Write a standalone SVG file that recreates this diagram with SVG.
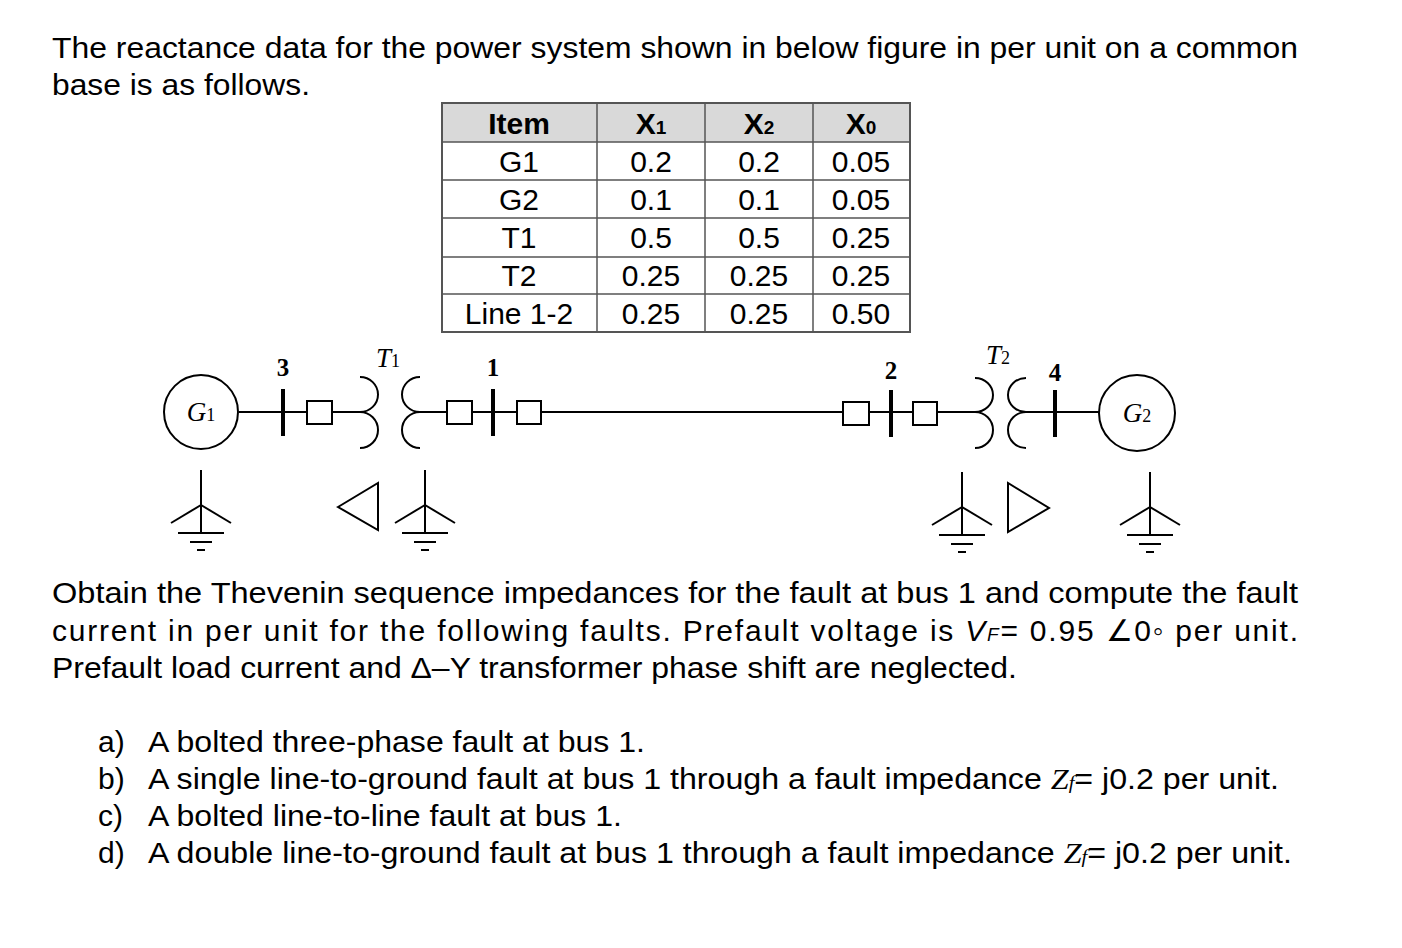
<svg xmlns="http://www.w3.org/2000/svg" width="1402" height="948" viewBox="0 0 1402 948">
<style>
.t{font-family:"Liberation Sans",Arial,sans-serif;font-size:30px;fill:#000}
.tb{font-family:"Liberation Sans",Arial,sans-serif;font-size:30px;fill:#000;text-anchor:middle}
.b{font-weight:bold}
.s{fill:none;stroke:#000;stroke-width:2}
.bar{stroke:#000;stroke-width:4}
.g{fill:none;stroke:#000;stroke-width:2}
.lab{font-family:"Liberation Serif","Times New Roman",serif;font-size:27px;fill:#000;text-anchor:middle}
.bl{font-family:"Liberation Serif",serif;font-size:25px;font-weight:bold;fill:#000;text-anchor:middle}
.it{font-family:"Liberation Serif",serif;font-style:italic}
</style>
<defs>
<g id="gnd" class="g">
<line x1="0" y1="0" x2="0" y2="63"/>
<line x1="0" y1="35" x2="-30" y2="53"/>
<line x1="0" y1="35" x2="30" y2="53"/>
<line x1="-23" y1="63" x2="23" y2="63"/>
<line x1="-11" y1="72" x2="11" y2="72"/>
<line x1="-4" y1="80" x2="4" y2="80"/>
</g>
</defs>
<rect width="1402" height="948" fill="#fff"/>
<text class="t" x="52" y="58" textLength="1246" lengthAdjust="spacingAndGlyphs">The reactance data for the power system shown in below figure in per unit on a common</text>
<text class="t" x="52" y="95" textLength="258" lengthAdjust="spacingAndGlyphs">base is as follows.</text>
<g id="table">
<rect x="442" y="103" width="468" height="39" fill="#d9d9d9"/>
<rect x="442" y="103" width="468" height="229" fill="none" stroke="#555" stroke-width="2"/>
<g stroke="#555" stroke-width="1.5">
<line x1="597" y1="103" x2="597" y2="332"/><line x1="705" y1="103" x2="705" y2="332"/><line x1="813" y1="103" x2="813" y2="332"/>
<line x1="442" y1="142" x2="910" y2="142"/><line x1="442" y1="180" x2="910" y2="180"/><line x1="442" y1="218" x2="910" y2="218"/><line x1="442" y1="257" x2="910" y2="257"/><line x1="442" y1="294" x2="910" y2="294"/>
</g>
<text class="tb b" x="519" y="134">Item</text>
<text class="tb b" x="651" y="134">X<tspan font-size="19">1</tspan></text>
<text class="tb b" x="759" y="134">X<tspan font-size="19">2</tspan></text>
<text class="tb b" x="861" y="134">X<tspan font-size="19">0</tspan></text>
<text class="tb" x="519" y="172">G1</text><text class="tb" x="651" y="172">0.2</text><text class="tb" x="759" y="172">0.2</text><text class="tb" x="861" y="172">0.05</text>
<text class="tb" x="519" y="210">G2</text><text class="tb" x="651" y="210">0.1</text><text class="tb" x="759" y="210">0.1</text><text class="tb" x="861" y="210">0.05</text>
<text class="tb" x="519" y="248">T1</text><text class="tb" x="651" y="248">0.5</text><text class="tb" x="759" y="248">0.5</text><text class="tb" x="861" y="248">0.25</text>
<text class="tb" x="519" y="286">T2</text><text class="tb" x="651" y="286">0.25</text><text class="tb" x="759" y="286">0.25</text><text class="tb" x="861" y="286">0.25</text>
<text class="tb" x="519" y="324">Line 1-2</text><text class="tb" x="651" y="324">0.25</text><text class="tb" x="759" y="324">0.25</text><text class="tb" x="861" y="324">0.50</text>
</g>
<g id="connectors" class="s">
<line x1="239" y1="412" x2="360" y2="412"/>
<line x1="420" y1="412" x2="975" y2="412"/>
<line x1="1026" y1="412" x2="1099" y2="412"/>
</g>
<g id="G1"><circle cx="201" cy="412" r="37" fill="#fff" stroke="#000" stroke-width="2"/><text class="lab" x="201" y="421"><tspan class="it">G</tspan><tspan font-size="18">1</tspan></text></g>
<g id="G2"><circle cx="1137" cy="413" r="38" fill="#fff" stroke="#000" stroke-width="2"/><text class="lab" x="1137" y="422"><tspan class="it">G</tspan><tspan font-size="18">2</tspan></text></g>
<g id="bus3"><line class="bar" x1="283" y1="389" x2="283" y2="436"/><text class="bl" x="283" y="376">3</text></g>
<g id="bus1"><line class="bar" x1="493" y1="389" x2="493" y2="436"/><text class="bl" x="493" y="376">1</text></g>
<g id="bus2"><line class="bar" x1="891" y1="390" x2="891" y2="437"/><text class="bl" x="891" y="379">2</text></g>
<g id="bus4"><line class="bar" x1="1055" y1="390" x2="1055" y2="437"/><text class="bl" x="1055" y="381">4</text></g>
<g id="breakers" fill="#fff" stroke="#000" stroke-width="2">
<rect x="307" y="401" width="25" height="23"/>
<rect x="447" y="401" width="25" height="23"/>
<rect x="517" y="401" width="24" height="23"/>
<rect x="843" y="402" width="26" height="23"/>
<rect x="913" y="402" width="24" height="23"/>
</g>
<g id="T1">
<path class="s" d="M360 377 A18 17.5 0 0 1 360 412 A18 18 0 0 1 360 448 M420 377 A18 17.5 0 0 0 420 412 A18 18 0 0 0 420 448"/>
<text class="lab" x="388" y="367"><tspan class="it">T</tspan><tspan font-size="18">1</tspan></text>
<polygon points="338,507 378,483 378,530" class="g"/>
<use href="#gnd" x="425" y="470"/>
</g>
<g id="T2">
<path class="s" d="M975 378 A18 17 0 0 1 975 412 A18 18 0 0 1 975 448 M1026 378 A18 17 0 0 0 1026 412 A18 18 0 0 0 1026 448"/>
<text class="lab" x="998" y="364"><tspan class="it">T</tspan><tspan font-size="18">2</tspan></text>
<polygon points="1008,483 1008,532 1049,508" class="g"/>
<use href="#gnd" x="962" y="472"/>
</g>
<use href="#gnd" x="201" y="470"/>
<use href="#gnd" x="1150" y="472"/>
<text class="t" x="52" y="603" textLength="1246" lengthAdjust="spacingAndGlyphs">Obtain the Thevenin sequence impedances for the fault at bus 1 and compute the fault</text>
<text class="t" x="52" y="641" textLength="1246" lengthAdjust="spacing">current in per unit for the following faults. Prefault voltage is <tspan font-style="italic">V</tspan><tspan font-style="italic" font-size="19">F</tspan>= 0.95 ∠0◦ per unit.</text>
<text class="t" x="52" y="678" textLength="965" lengthAdjust="spacingAndGlyphs">Prefault load current and Δ–Y transformer phase shift are neglected.</text>
<text class="t" x="98" y="752">a)</text><text class="t" x="148" y="752" textLength="497" lengthAdjust="spacingAndGlyphs">A bolted three-phase fault at bus 1.</text>
<text class="t" x="98" y="789">b)</text><text class="t" x="148" y="789" textLength="1131" lengthAdjust="spacingAndGlyphs">A single line-to-ground fault at bus 1 through a fault impedance <tspan class="it">Z</tspan><tspan class="it" font-size="19">f</tspan>= j0.2 per unit.</text>
<text class="t" x="98" y="826">c)</text><text class="t" x="148" y="826" textLength="474" lengthAdjust="spacingAndGlyphs">A bolted line-to-line fault at bus 1.</text>
<text class="t" x="98" y="863">d)</text><text class="t" x="148" y="863" textLength="1144" lengthAdjust="spacingAndGlyphs">A double line-to-ground fault at bus 1 through a fault impedance <tspan class="it">Z</tspan><tspan class="it" font-size="19">f</tspan>= j0.2 per unit.</text>
</svg>
